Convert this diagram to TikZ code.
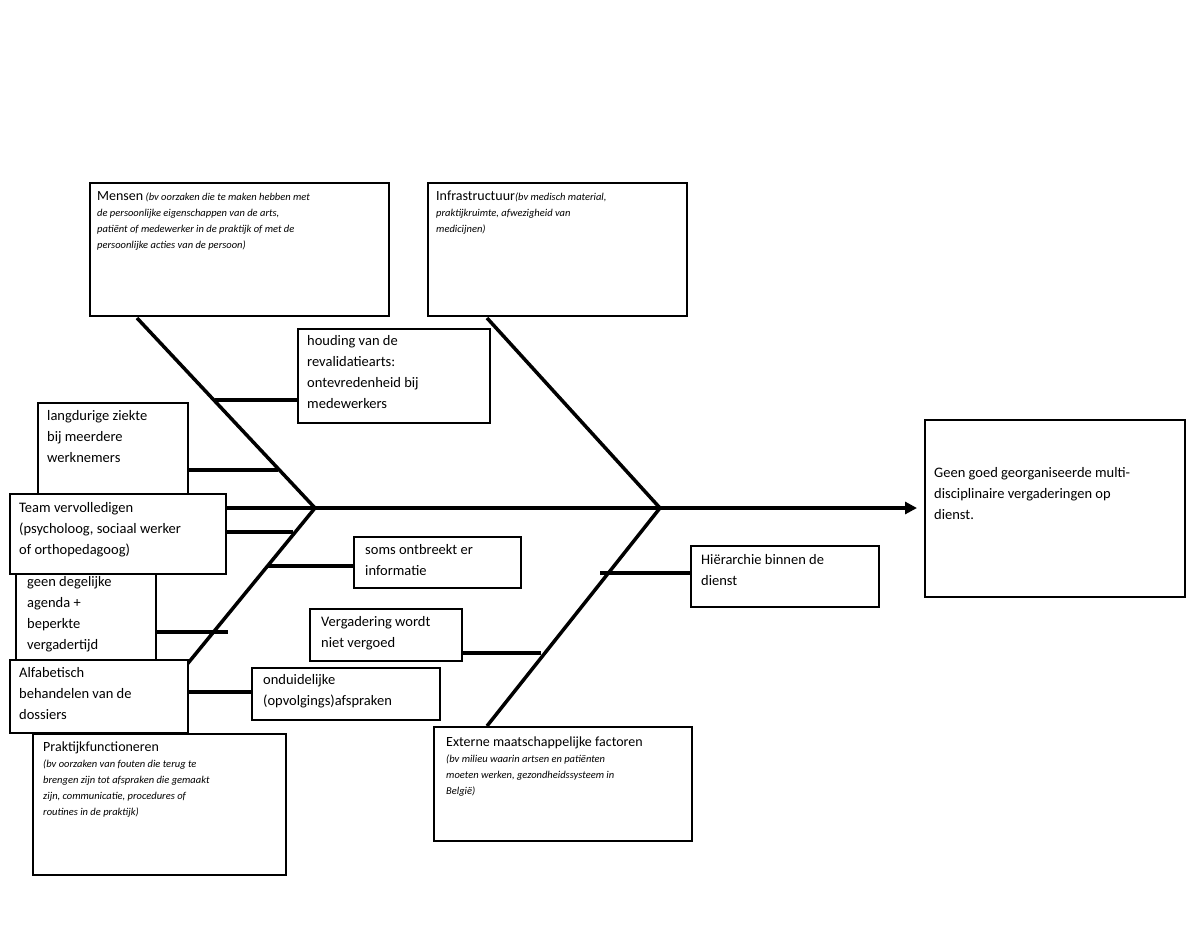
\documentclass[tikz,border=0pt]{standalone}
\usepackage{fontspec}
\setmainfont{Carlito}
\usetikzlibrary{arrows.meta}
\newcommand\smit{\fontsize{10.5}{16}\selectfont\itshape}
\newcommand\bigup{\upshape\fontsize{14}{16}\selectfont}
\begin{document}
\begin{tikzpicture}[x=1pt,y=-1pt,
  bone/.style={line width=3.5pt},
  bx/.style={line width=1.3pt,fill=white},
  txt/.style={anchor=north west,align=left,font=\fontsize{14.5}{21}\selectfont,inner sep=0pt},
  stxt/.style={anchor=north west,align=left,font=\smit,inner sep=0pt}]
\useasboundingbox (0,0) rectangle (1200,927);
\coordinate (j1) at (315,508);
\coordinate (j2) at (660,508);
\draw[bone] (190,508) -- (j1) -- (j2) -- (905,508);
\draw[line width=3.5pt,-{Triangle[length=12pt,width=12pt]}] (880,508) -- (917,508);
\draw[bone] (137,318) -- (j1);
\draw[bone] (487,318) -- (j2);
\draw[bone] (j1) -- (180,673);
\draw[bone] (j2) -- (487,726);
\draw[bone] (215,400) -- (298,400);
\draw[bone] (188,470) -- (278,470);
\draw[bone] (226,532) -- (293,532);
\draw[bone] (268,566) -- (354,566);
\draw[bone] (156,632) -- (228,632);
\draw[bone] (188,692) -- (252,692);
\draw[bone] (462,653) -- (541,653);
\draw[bone] (600,573) -- (691,573);
\draw[bx] (90,183) rectangle (389,316);
\node[stxt] (mensen) at (97,191) {{\bigup Mensen} (bv oorzaken die te maken hebben met\\de persoonlijke eigenschappen van de arts,\\patiënt of medewerker in de praktijk of met de\\persoonlijke acties van de persoon)};
\draw[bx] (428,183) rectangle (687,316);
\node[stxt] (infra) at (436,191) {{\bigup Infrastructuur}(bv medisch material,\\praktijkruimte, afwezigheid van\\medicijnen)};
\draw[bx] (925,420) rectangle (1185,597);
\node[txt] (head) at (934,467) {Geen goed georganiseerde multi-\\disciplinaire vergaderingen op\\dienst.};
\draw[bx] (298,329) rectangle (490,423);
\node[txt] (houding) at (307,335) {houding van de\\revalidatiearts:\\ontevredenheid bij\\medewerkers};
\draw[bx] (38,403) rectangle (188,494);
\node[txt] (lang) at (47,410) {langdurige ziekte\\bij meerdere\\werknemers};
\draw[bx] (10,494) rectangle (226,574);
\node[txt] (team) at (19,502) {Team vervolledigen\\(psycholoog, sociaal werker\\of orthopedagoog)};
\draw[bx] (354,537) rectangle (521,588);
\node[txt] (soms) at (365,544) {soms ontbreekt er\\informatie};
\draw[bx] (16,574) rectangle (156,660);
\node[txt] (agenda) at (27,576) {geen degelijke\\agenda +\\beperkte\\vergadertijd};
\draw[bx] (10,660) rectangle (188,733);
\node[txt] (alfa) at (19,667) {Alfabetisch\\behandelen van de\\dossiers};
\draw[bx] (252,668) rectangle (440,720);
\node[txt] (ond) at (263,674) {onduidelijke\\(opvolgings)afspraken};
\draw[bx] (33,734) rectangle (286,875);
\node[stxt] (prak) at (43,742) {{\bigup Praktijkfunctioneren}\\(bv oorzaken van fouten die terug te\\brengen zijn tot afspraken die gemaakt\\zijn, communicatie, procedures of\\routines in de praktijk)};
\draw[bx] (310,609) rectangle (462,661);
\node[txt] (verg) at (321,616) {Vergadering wordt\\niet vergoed};
\draw[bx] (691,546) rectangle (879,607);
\node[txt] (hier) at (701,554) {Hiërarchie binnen de\\dienst};
\draw[bx] (434,727) rectangle (692,841);
\node[stxt] (ext) at (446,737) {{\bigup Externe maatschappelijke factoren}\\(bv milieu waarin artsen en patiënten\\moeten werken, gezondheidssysteem in\\België)};
\end{tikzpicture}
\end{document}
